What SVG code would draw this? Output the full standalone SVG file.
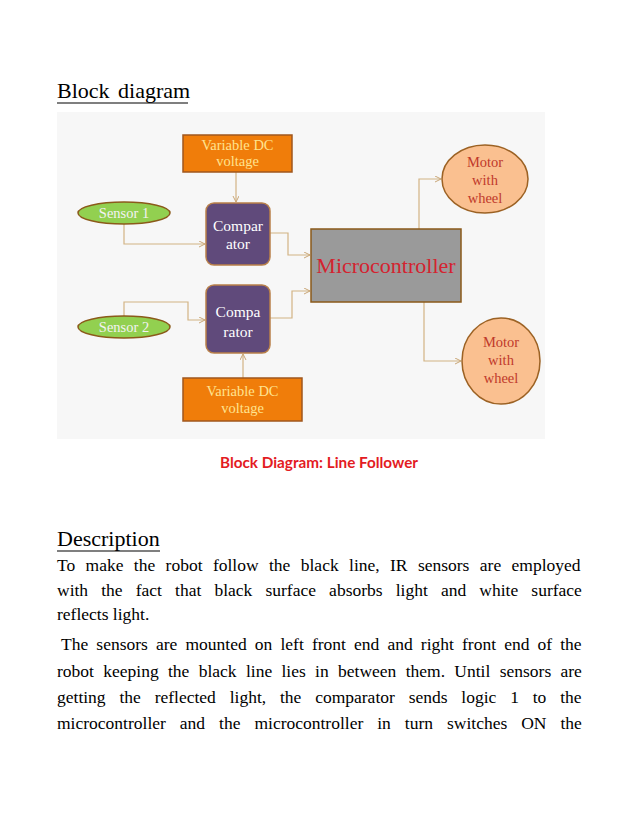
<svg xmlns="http://www.w3.org/2000/svg" width="638" height="826" viewBox="0 0 638 826">
<defs>
<marker id="ah" markerWidth="8" markerHeight="8" refX="6" refY="3" orient="auto" markerUnits="userSpaceOnUse">
<path d="M0,0 L6,3 L0,6" fill="none" stroke="#c9a677" stroke-width="1"/>
</marker>
</defs>
<style>
.serif{font-family:"Liberation Serif","Times New Roman",serif;}
.head{font-size:22px;fill:#000;}
.para{font-size:17.5px;fill:#000;}
.box{font-family:"Liberation Serif","DejaVu Serif",serif;text-anchor:middle;}
.conn{fill:none;stroke:#d2b384;stroke-width:1.2;marker-end:url(#ah);}
</style>
<rect width="638" height="826" fill="#ffffff"/>
<text class="serif head" x="57" y="98" word-spacing="3">Block diagram</text>
<line x1="57" y1="103" x2="188" y2="103" stroke="#000" stroke-width="1.2"/>
<rect x="57" y="112" width="488" height="327" fill="#f7f7f7"/>
<g id="connectors">
<path class="conn" d="M236,172 V202"/>
<path class="conn" d="M124,224 V244 H205"/>
<path class="conn" d="M270,233 H288 V255 H310"/>
<path class="conn" d="M124,316 V302 H188 V320 H205"/>
<path class="conn" d="M270,318 H292 V291 H310"/>
<path class="conn" d="M243,378 V354"/>
<path class="conn" d="M419,229 V179 H441"/>
<path class="conn" d="M424,302 V361 H461"/>
</g>
<g id="vdc1">
<rect x="183" y="135" width="109" height="37" fill="#f07d0a" stroke="#a0571e" stroke-width="1.5"/>
<text class="box" x="237.5" y="150" font-size="14.5" fill="#ffe38f">Variable DC</text>
<text class="box" x="237.5" y="166" font-size="14.5" fill="#ffe38f">voltage</text>
</g>
<g id="comp1">
<rect x="206" y="203" width="64" height="62" rx="8" fill="#604a7b" stroke="#b9804a" stroke-width="1.5"/>
<text class="box" x="238" y="231" font-size="15.5" fill="#ffffff">Compar</text>
<text class="box" x="238" y="249" font-size="15.5" fill="#ffffff">ator</text>
</g>
<g id="sensor1">
<ellipse cx="124" cy="213" rx="46" ry="11" fill="#92d050" stroke="#8b5a1a" stroke-width="1.5"/>
<text class="box" x="124" y="218" font-size="14.5" fill="#f2f2f2">Sensor 1</text>
</g>
<g id="comp2">
<rect x="206" y="285" width="64" height="68" rx="8" fill="#604a7b" stroke="#b9804a" stroke-width="1.5"/>
<text class="box" x="238" y="317" font-size="15.5" fill="#ffffff">Compa</text>
<text class="box" x="238" y="337" font-size="15.5" fill="#ffffff">rator</text>
</g>
<g id="sensor2">
<ellipse cx="124" cy="327" rx="46" ry="11" fill="#92d050" stroke="#8b5a1a" stroke-width="1.5"/>
<text class="box" x="124" y="332" font-size="14.5" fill="#f2f2f2">Sensor 2</text>
</g>
<g id="vdc2">
<rect x="183" y="378" width="119" height="43" fill="#f07d0a" stroke="#a0571e" stroke-width="1.5"/>
<text class="box" x="242.5" y="396" font-size="14.5" fill="#ffe38f">Variable DC</text>
<text class="box" x="242.5" y="413" font-size="14.5" fill="#ffe38f">voltage</text>
</g>
<g id="mc">
<rect x="311" y="229" width="150" height="73" fill="#9a9a9a" stroke="#8b5a1a" stroke-width="1.5"/>
<text class="box" x="386" y="273" font-size="22" fill="#d42330">Microcontroller</text>
</g>
<g id="motor1">
<ellipse cx="485" cy="179" rx="43" ry="34" fill="#fac090" stroke="#9c6224" stroke-width="1.5"/>
<text class="box" x="485" y="167" font-size="14.5" fill="#c0392b">Motor</text>
<text class="box" x="485" y="185" font-size="14.5" fill="#c0392b">with</text>
<text class="box" x="485" y="203" font-size="14.5" fill="#c0392b">wheel</text>
</g>
<g id="motor2">
<ellipse cx="501" cy="361" rx="39" ry="43" fill="#fac090" stroke="#9c6224" stroke-width="1.5"/>
<text class="box" x="501" y="347" font-size="14.5" fill="#c0392b">Motor</text>
<text class="box" x="501" y="365" font-size="14.5" fill="#c0392b">with</text>
<text class="box" x="501" y="383" font-size="14.5" fill="#c0392b">wheel</text>
</g>
<text x="220" y="468" font-family="Lato,'Liberation Sans',Arial,sans-serif" font-weight="bold" font-size="15" fill="#e31b23" textLength="198" lengthAdjust="spacingAndGlyphs">Block Diagram: Line Follower</text>
<text class="serif head" x="57" y="546">Description</text>
<line x1="57" y1="551" x2="160" y2="551" stroke="#000" stroke-width="1.2"/>
<text class="serif para" x="57" y="571" word-spacing="6.0">To make the robot follow the black line, IR sensors are employed</text>
<text class="serif para" x="57" y="596" word-spacing="8.75">with the fact that black surface absorbs light and white surface</text>
<text class="serif para" x="57" y="620">reflects light.</text>
<text class="serif para" x="61" y="650" word-spacing="3.75">The sensors are mounted on left front end and right front end of the</text>
<text class="serif para" x="57" y="677" word-spacing="4.95">robot keeping the black line lies in between them. Until sensors are</text>
<text class="serif para" x="57" y="703" word-spacing="9.45">getting the reflected light, the comparator sends logic 1 to the</text>
<text class="serif para" x="57" y="729" word-spacing="9.6">microcontroller and the microcontroller in turn switches ON the</text>
</svg>
